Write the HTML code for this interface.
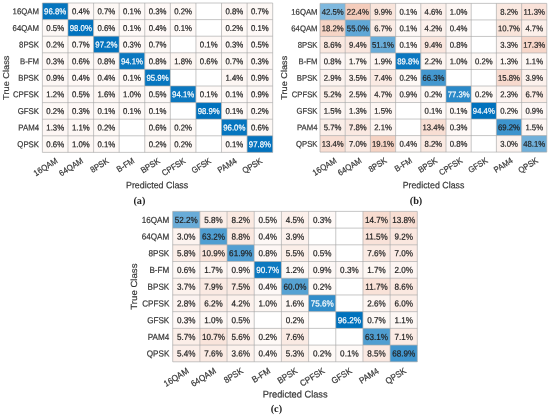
<!DOCTYPE html>
<html><head><meta charset="utf-8"><title>Confusion matrices</title>
<style>
html,body{margin:0;padding:0;background:#fff;}
svg{display:block;}
text{stroke-width:0.2px;}
svg{text-rendering:geometricPrecision;font-family:"Liberation Sans",Arial,sans-serif;font-size:8.45px;}
</style></head><body>
<svg width="550" height="417" viewBox="0 0 550 417">
<rect width="550" height="417" fill="#fff"/>
<rect x="42.40" y="3.00" width="25.59" height="16.60" fill="#0575be"/>
<rect x="67.99" y="3.00" width="25.59" height="16.60" fill="#fef8f6"/>
<rect x="93.58" y="3.00" width="25.59" height="16.60" fill="#fdf8f5"/>
<rect x="119.17" y="3.00" width="25.59" height="16.60" fill="#fef9f7"/>
<rect x="144.76" y="3.00" width="25.59" height="16.60" fill="#fef8f6"/>
<rect x="170.34" y="3.00" width="25.59" height="16.60" fill="#fef9f6"/>
<rect x="195.93" y="3.00" width="25.59" height="16.60" fill="#ffffff"/>
<rect x="221.52" y="3.00" width="25.59" height="16.60" fill="#fdf7f5"/>
<rect x="247.11" y="3.00" width="25.59" height="16.60" fill="#fdf8f5"/>
<rect x="42.40" y="19.60" width="25.59" height="16.60" fill="#fdf8f6"/>
<rect x="67.99" y="19.60" width="25.59" height="16.60" fill="#0273be"/>
<rect x="93.58" y="19.60" width="25.59" height="16.60" fill="#fdf8f5"/>
<rect x="119.17" y="19.60" width="25.59" height="16.60" fill="#fef9f7"/>
<rect x="144.76" y="19.60" width="25.59" height="16.60" fill="#fef8f6"/>
<rect x="170.34" y="19.60" width="25.59" height="16.60" fill="#fef9f7"/>
<rect x="195.93" y="19.60" width="25.59" height="16.60" fill="#ffffff"/>
<rect x="221.52" y="19.60" width="25.59" height="16.60" fill="#fef9f6"/>
<rect x="247.11" y="19.60" width="25.59" height="16.60" fill="#fef9f7"/>
<rect x="42.40" y="36.20" width="25.59" height="16.60" fill="#fef9f6"/>
<rect x="67.99" y="36.20" width="25.59" height="16.60" fill="#fdf8f5"/>
<rect x="93.58" y="36.20" width="25.59" height="16.60" fill="#0474be"/>
<rect x="119.17" y="36.20" width="25.59" height="16.60" fill="#fef8f6"/>
<rect x="144.76" y="36.20" width="25.59" height="16.60" fill="#fdf8f5"/>
<rect x="170.34" y="36.20" width="25.59" height="16.60" fill="#ffffff"/>
<rect x="195.93" y="36.20" width="25.59" height="16.60" fill="#fef9f7"/>
<rect x="221.52" y="36.20" width="25.59" height="16.60" fill="#fef8f6"/>
<rect x="247.11" y="36.20" width="25.59" height="16.60" fill="#fdf8f6"/>
<rect x="42.40" y="52.80" width="25.59" height="16.60" fill="#fef8f6"/>
<rect x="67.99" y="52.80" width="25.59" height="16.60" fill="#fdf8f5"/>
<rect x="93.58" y="52.80" width="25.59" height="16.60" fill="#fdf7f5"/>
<rect x="119.17" y="52.80" width="25.59" height="16.60" fill="#0b78c0"/>
<rect x="144.76" y="52.80" width="25.59" height="16.60" fill="#fdf7f5"/>
<rect x="170.34" y="52.80" width="25.59" height="16.60" fill="#fdf6f2"/>
<rect x="195.93" y="52.80" width="25.59" height="16.60" fill="#fdf8f5"/>
<rect x="221.52" y="52.80" width="25.59" height="16.60" fill="#fdf8f5"/>
<rect x="247.11" y="52.80" width="25.59" height="16.60" fill="#fef8f6"/>
<rect x="42.40" y="69.40" width="25.59" height="16.60" fill="#fdf7f5"/>
<rect x="67.99" y="69.40" width="25.59" height="16.60" fill="#fef8f6"/>
<rect x="93.58" y="69.40" width="25.59" height="16.60" fill="#fef8f6"/>
<rect x="119.17" y="69.40" width="25.59" height="16.60" fill="#fef9f7"/>
<rect x="144.76" y="69.40" width="25.59" height="16.60" fill="#0776bf"/>
<rect x="170.34" y="69.40" width="25.59" height="16.60" fill="#ffffff"/>
<rect x="195.93" y="69.40" width="25.59" height="16.60" fill="#ffffff"/>
<rect x="221.52" y="69.40" width="25.59" height="16.60" fill="#fdf6f3"/>
<rect x="247.11" y="69.40" width="25.59" height="16.60" fill="#fdf7f5"/>
<rect x="42.40" y="86.00" width="25.59" height="16.60" fill="#fdf7f4"/>
<rect x="67.99" y="86.00" width="25.59" height="16.60" fill="#fdf8f6"/>
<rect x="93.58" y="86.00" width="25.59" height="16.60" fill="#fdf6f3"/>
<rect x="119.17" y="86.00" width="25.59" height="16.60" fill="#fdf7f4"/>
<rect x="144.76" y="86.00" width="25.59" height="16.60" fill="#fdf8f6"/>
<rect x="170.34" y="86.00" width="25.59" height="16.60" fill="#0b78c0"/>
<rect x="195.93" y="86.00" width="25.59" height="16.60" fill="#fef9f7"/>
<rect x="221.52" y="86.00" width="25.59" height="16.60" fill="#fef9f7"/>
<rect x="247.11" y="86.00" width="25.59" height="16.60" fill="#fdf7f5"/>
<rect x="42.40" y="102.60" width="25.59" height="16.60" fill="#fef9f6"/>
<rect x="67.99" y="102.60" width="25.59" height="16.60" fill="#fef8f6"/>
<rect x="93.58" y="102.60" width="25.59" height="16.60" fill="#fef9f7"/>
<rect x="119.17" y="102.60" width="25.59" height="16.60" fill="#fef9f7"/>
<rect x="144.76" y="102.60" width="25.59" height="16.60" fill="#fef9f7"/>
<rect x="170.34" y="102.60" width="25.59" height="16.60" fill="#ffffff"/>
<rect x="195.93" y="102.60" width="25.59" height="16.60" fill="#0072bd"/>
<rect x="221.52" y="102.60" width="25.59" height="16.60" fill="#fef9f7"/>
<rect x="247.11" y="102.60" width="25.59" height="16.60" fill="#fef9f6"/>
<rect x="42.40" y="119.20" width="25.59" height="16.60" fill="#fdf6f4"/>
<rect x="67.99" y="119.20" width="25.59" height="16.60" fill="#fdf7f4"/>
<rect x="93.58" y="119.20" width="25.59" height="16.60" fill="#fef9f6"/>
<rect x="119.17" y="119.20" width="25.59" height="16.60" fill="#ffffff"/>
<rect x="144.76" y="119.20" width="25.59" height="16.60" fill="#fdf8f5"/>
<rect x="170.34" y="119.20" width="25.59" height="16.60" fill="#fef9f6"/>
<rect x="195.93" y="119.20" width="25.59" height="16.60" fill="#ffffff"/>
<rect x="221.52" y="119.20" width="25.59" height="16.60" fill="#0776bf"/>
<rect x="247.11" y="119.20" width="25.59" height="16.60" fill="#fdf8f5"/>
<rect x="42.40" y="135.80" width="25.59" height="16.60" fill="#fdf8f5"/>
<rect x="67.99" y="135.80" width="25.59" height="16.60" fill="#fdf7f4"/>
<rect x="93.58" y="135.80" width="25.59" height="16.60" fill="#fef9f7"/>
<rect x="119.17" y="135.80" width="25.59" height="16.60" fill="#ffffff"/>
<rect x="144.76" y="135.80" width="25.59" height="16.60" fill="#fef9f6"/>
<rect x="170.34" y="135.80" width="25.59" height="16.60" fill="#fef9f6"/>
<rect x="195.93" y="135.80" width="25.59" height="16.60" fill="#ffffff"/>
<rect x="221.52" y="135.80" width="25.59" height="16.60" fill="#fef9f7"/>
<rect x="247.11" y="135.80" width="25.59" height="16.60" fill="#0373be"/>
<path d="M42.40 3.00V152.40M42.40 3.00H272.70M67.99 3.00V152.40M42.40 19.60H272.70M93.58 3.00V152.40M42.40 36.20H272.70M119.17 3.00V152.40M42.40 52.80H272.70M144.76 3.00V152.40M42.40 69.40H272.70M170.34 3.00V152.40M42.40 86.00H272.70M195.93 3.00V152.40M42.40 102.60H272.70M221.52 3.00V152.40M42.40 119.20H272.70M247.11 3.00V152.40M42.40 135.80H272.70M272.70 3.00V152.40M42.40 152.40H272.70" stroke="#a8a8a8" stroke-width="0.65" fill="none"/>
<text transform="translate(55.19 14.34) rotate(0.04) scale(0.925 1)" text-anchor="middle" font-size="8.45" fill="#ffffff" stroke="#ffffff">96.8%</text>
<text transform="translate(80.78 14.34) rotate(0.04) scale(0.925 1)" text-anchor="middle" font-size="8.45" fill="#222" stroke="#222">0.4%</text>
<text transform="translate(106.37 14.34) rotate(0.04) scale(0.925 1)" text-anchor="middle" font-size="8.45" fill="#222" stroke="#222">0.7%</text>
<text transform="translate(131.96 14.34) rotate(0.04) scale(0.925 1)" text-anchor="middle" font-size="8.45" fill="#222" stroke="#222">0.1%</text>
<text transform="translate(157.55 14.34) rotate(0.04) scale(0.925 1)" text-anchor="middle" font-size="8.45" fill="#222" stroke="#222">0.3%</text>
<text transform="translate(183.14 14.34) rotate(0.04) scale(0.925 1)" text-anchor="middle" font-size="8.45" fill="#222" stroke="#222">0.2%</text>
<text transform="translate(234.32 14.34) rotate(0.04) scale(0.925 1)" text-anchor="middle" font-size="8.45" fill="#222" stroke="#222">0.8%</text>
<text transform="translate(259.91 14.34) rotate(0.04) scale(0.925 1)" text-anchor="middle" font-size="8.45" fill="#222" stroke="#222">0.7%</text>
<text transform="translate(55.19 30.94) rotate(0.04) scale(0.925 1)" text-anchor="middle" font-size="8.45" fill="#222" stroke="#222">0.5%</text>
<text transform="translate(80.78 30.94) rotate(0.04) scale(0.925 1)" text-anchor="middle" font-size="8.45" fill="#ffffff" stroke="#ffffff">98.0%</text>
<text transform="translate(106.37 30.94) rotate(0.04) scale(0.925 1)" text-anchor="middle" font-size="8.45" fill="#222" stroke="#222">0.6%</text>
<text transform="translate(131.96 30.94) rotate(0.04) scale(0.925 1)" text-anchor="middle" font-size="8.45" fill="#222" stroke="#222">0.1%</text>
<text transform="translate(157.55 30.94) rotate(0.04) scale(0.925 1)" text-anchor="middle" font-size="8.45" fill="#222" stroke="#222">0.4%</text>
<text transform="translate(183.14 30.94) rotate(0.04) scale(0.925 1)" text-anchor="middle" font-size="8.45" fill="#222" stroke="#222">0.1%</text>
<text transform="translate(234.32 30.94) rotate(0.04) scale(0.925 1)" text-anchor="middle" font-size="8.45" fill="#222" stroke="#222">0.2%</text>
<text transform="translate(259.91 30.94) rotate(0.04) scale(0.925 1)" text-anchor="middle" font-size="8.45" fill="#222" stroke="#222">0.1%</text>
<text transform="translate(55.19 47.54) rotate(0.04) scale(0.925 1)" text-anchor="middle" font-size="8.45" fill="#222" stroke="#222">0.2%</text>
<text transform="translate(80.78 47.54) rotate(0.04) scale(0.925 1)" text-anchor="middle" font-size="8.45" fill="#222" stroke="#222">0.7%</text>
<text transform="translate(106.37 47.54) rotate(0.04) scale(0.925 1)" text-anchor="middle" font-size="8.45" fill="#ffffff" stroke="#ffffff">97.2%</text>
<text transform="translate(131.96 47.54) rotate(0.04) scale(0.925 1)" text-anchor="middle" font-size="8.45" fill="#222" stroke="#222">0.3%</text>
<text transform="translate(157.55 47.54) rotate(0.04) scale(0.925 1)" text-anchor="middle" font-size="8.45" fill="#222" stroke="#222">0.7%</text>
<text transform="translate(208.73 47.54) rotate(0.04) scale(0.925 1)" text-anchor="middle" font-size="8.45" fill="#222" stroke="#222">0.1%</text>
<text transform="translate(234.32 47.54) rotate(0.04) scale(0.925 1)" text-anchor="middle" font-size="8.45" fill="#222" stroke="#222">0.3%</text>
<text transform="translate(259.91 47.54) rotate(0.04) scale(0.925 1)" text-anchor="middle" font-size="8.45" fill="#222" stroke="#222">0.5%</text>
<text transform="translate(55.19 64.14) rotate(0.04) scale(0.925 1)" text-anchor="middle" font-size="8.45" fill="#222" stroke="#222">0.3%</text>
<text transform="translate(80.78 64.14) rotate(0.04) scale(0.925 1)" text-anchor="middle" font-size="8.45" fill="#222" stroke="#222">0.6%</text>
<text transform="translate(106.37 64.14) rotate(0.04) scale(0.925 1)" text-anchor="middle" font-size="8.45" fill="#222" stroke="#222">0.8%</text>
<text transform="translate(131.96 64.14) rotate(0.04) scale(0.925 1)" text-anchor="middle" font-size="8.45" fill="#ffffff" stroke="#ffffff">94.1%</text>
<text transform="translate(157.55 64.14) rotate(0.04) scale(0.925 1)" text-anchor="middle" font-size="8.45" fill="#222" stroke="#222">0.8%</text>
<text transform="translate(183.14 64.14) rotate(0.04) scale(0.925 1)" text-anchor="middle" font-size="8.45" fill="#222" stroke="#222">1.8%</text>
<text transform="translate(208.73 64.14) rotate(0.04) scale(0.925 1)" text-anchor="middle" font-size="8.45" fill="#222" stroke="#222">0.6%</text>
<text transform="translate(234.32 64.14) rotate(0.04) scale(0.925 1)" text-anchor="middle" font-size="8.45" fill="#222" stroke="#222">0.7%</text>
<text transform="translate(259.91 64.14) rotate(0.04) scale(0.925 1)" text-anchor="middle" font-size="8.45" fill="#222" stroke="#222">0.3%</text>
<text transform="translate(55.19 80.74) rotate(0.04) scale(0.925 1)" text-anchor="middle" font-size="8.45" fill="#222" stroke="#222">0.9%</text>
<text transform="translate(80.78 80.74) rotate(0.04) scale(0.925 1)" text-anchor="middle" font-size="8.45" fill="#222" stroke="#222">0.4%</text>
<text transform="translate(106.37 80.74) rotate(0.04) scale(0.925 1)" text-anchor="middle" font-size="8.45" fill="#222" stroke="#222">0.4%</text>
<text transform="translate(131.96 80.74) rotate(0.04) scale(0.925 1)" text-anchor="middle" font-size="8.45" fill="#222" stroke="#222">0.1%</text>
<text transform="translate(157.55 80.74) rotate(0.04) scale(0.925 1)" text-anchor="middle" font-size="8.45" fill="#ffffff" stroke="#ffffff">95.9%</text>
<text transform="translate(234.32 80.74) rotate(0.04) scale(0.925 1)" text-anchor="middle" font-size="8.45" fill="#222" stroke="#222">1.4%</text>
<text transform="translate(259.91 80.74) rotate(0.04) scale(0.925 1)" text-anchor="middle" font-size="8.45" fill="#222" stroke="#222">0.9%</text>
<text transform="translate(55.19 97.34) rotate(0.04) scale(0.925 1)" text-anchor="middle" font-size="8.45" fill="#222" stroke="#222">1.2%</text>
<text transform="translate(80.78 97.34) rotate(0.04) scale(0.925 1)" text-anchor="middle" font-size="8.45" fill="#222" stroke="#222">0.5%</text>
<text transform="translate(106.37 97.34) rotate(0.04) scale(0.925 1)" text-anchor="middle" font-size="8.45" fill="#222" stroke="#222">1.6%</text>
<text transform="translate(131.96 97.34) rotate(0.04) scale(0.925 1)" text-anchor="middle" font-size="8.45" fill="#222" stroke="#222">1.0%</text>
<text transform="translate(157.55 97.34) rotate(0.04) scale(0.925 1)" text-anchor="middle" font-size="8.45" fill="#222" stroke="#222">0.5%</text>
<text transform="translate(183.14 97.34) rotate(0.04) scale(0.925 1)" text-anchor="middle" font-size="8.45" fill="#ffffff" stroke="#ffffff">94.1%</text>
<text transform="translate(208.73 97.34) rotate(0.04) scale(0.925 1)" text-anchor="middle" font-size="8.45" fill="#222" stroke="#222">0.1%</text>
<text transform="translate(234.32 97.34) rotate(0.04) scale(0.925 1)" text-anchor="middle" font-size="8.45" fill="#222" stroke="#222">0.1%</text>
<text transform="translate(259.91 97.34) rotate(0.04) scale(0.925 1)" text-anchor="middle" font-size="8.45" fill="#222" stroke="#222">0.9%</text>
<text transform="translate(55.19 113.94) rotate(0.04) scale(0.925 1)" text-anchor="middle" font-size="8.45" fill="#222" stroke="#222">0.2%</text>
<text transform="translate(80.78 113.94) rotate(0.04) scale(0.925 1)" text-anchor="middle" font-size="8.45" fill="#222" stroke="#222">0.3%</text>
<text transform="translate(106.37 113.94) rotate(0.04) scale(0.925 1)" text-anchor="middle" font-size="8.45" fill="#222" stroke="#222">0.1%</text>
<text transform="translate(131.96 113.94) rotate(0.04) scale(0.925 1)" text-anchor="middle" font-size="8.45" fill="#222" stroke="#222">0.1%</text>
<text transform="translate(157.55 113.94) rotate(0.04) scale(0.925 1)" text-anchor="middle" font-size="8.45" fill="#222" stroke="#222">0.1%</text>
<text transform="translate(208.73 113.94) rotate(0.04) scale(0.925 1)" text-anchor="middle" font-size="8.45" fill="#ffffff" stroke="#ffffff">98.9%</text>
<text transform="translate(234.32 113.94) rotate(0.04) scale(0.925 1)" text-anchor="middle" font-size="8.45" fill="#222" stroke="#222">0.1%</text>
<text transform="translate(259.91 113.94) rotate(0.04) scale(0.925 1)" text-anchor="middle" font-size="8.45" fill="#222" stroke="#222">0.2%</text>
<text transform="translate(55.19 130.54) rotate(0.04) scale(0.925 1)" text-anchor="middle" font-size="8.45" fill="#222" stroke="#222">1.3%</text>
<text transform="translate(80.78 130.54) rotate(0.04) scale(0.925 1)" text-anchor="middle" font-size="8.45" fill="#222" stroke="#222">1.1%</text>
<text transform="translate(106.37 130.54) rotate(0.04) scale(0.925 1)" text-anchor="middle" font-size="8.45" fill="#222" stroke="#222">0.2%</text>
<text transform="translate(157.55 130.54) rotate(0.04) scale(0.925 1)" text-anchor="middle" font-size="8.45" fill="#222" stroke="#222">0.6%</text>
<text transform="translate(183.14 130.54) rotate(0.04) scale(0.925 1)" text-anchor="middle" font-size="8.45" fill="#222" stroke="#222">0.2%</text>
<text transform="translate(234.32 130.54) rotate(0.04) scale(0.925 1)" text-anchor="middle" font-size="8.45" fill="#ffffff" stroke="#ffffff">96.0%</text>
<text transform="translate(259.91 130.54) rotate(0.04) scale(0.925 1)" text-anchor="middle" font-size="8.45" fill="#222" stroke="#222">0.6%</text>
<text transform="translate(55.19 147.14) rotate(0.04) scale(0.925 1)" text-anchor="middle" font-size="8.45" fill="#222" stroke="#222">0.6%</text>
<text transform="translate(80.78 147.14) rotate(0.04) scale(0.925 1)" text-anchor="middle" font-size="8.45" fill="#222" stroke="#222">1.0%</text>
<text transform="translate(106.37 147.14) rotate(0.04) scale(0.925 1)" text-anchor="middle" font-size="8.45" fill="#222" stroke="#222">0.1%</text>
<text transform="translate(157.55 147.14) rotate(0.04) scale(0.925 1)" text-anchor="middle" font-size="8.45" fill="#222" stroke="#222">0.2%</text>
<text transform="translate(183.14 147.14) rotate(0.04) scale(0.925 1)" text-anchor="middle" font-size="8.45" fill="#222" stroke="#222">0.2%</text>
<text transform="translate(234.32 147.14) rotate(0.04) scale(0.925 1)" text-anchor="middle" font-size="8.45" fill="#222" stroke="#222">0.1%</text>
<text transform="translate(259.91 147.14) rotate(0.04) scale(0.925 1)" text-anchor="middle" font-size="8.45" fill="#ffffff" stroke="#ffffff">97.8%</text>
<text transform="translate(39.00 14.34) rotate(0.04) scale(0.925 1)" font-size="8.45" text-anchor="end" fill="#363636" stroke="#363636">16QAM</text>
<text transform="translate(39.00 30.94) rotate(0.04) scale(0.925 1)" font-size="8.45" text-anchor="end" fill="#363636" stroke="#363636">64QAM</text>
<text transform="translate(39.00 47.54) rotate(0.04) scale(0.925 1)" font-size="8.45" text-anchor="end" fill="#363636" stroke="#363636">8PSK</text>
<text transform="translate(39.00 64.14) rotate(0.04) scale(0.925 1)" font-size="8.45" text-anchor="end" fill="#363636" stroke="#363636">B-FM</text>
<text transform="translate(39.00 80.74) rotate(0.04) scale(0.925 1)" font-size="8.45" text-anchor="end" fill="#363636" stroke="#363636">BPSK</text>
<text transform="translate(39.00 97.34) rotate(0.04) scale(0.925 1)" font-size="8.45" text-anchor="end" fill="#363636" stroke="#363636">CPFSK</text>
<text transform="translate(39.00 113.94) rotate(0.04) scale(0.925 1)" font-size="8.45" text-anchor="end" fill="#363636" stroke="#363636">GFSK</text>
<text transform="translate(39.00 130.54) rotate(0.04) scale(0.925 1)" font-size="8.45" text-anchor="end" fill="#363636" stroke="#363636">PAM4</text>
<text transform="translate(39.00 147.14) rotate(0.04) scale(0.925 1)" font-size="8.45" text-anchor="end" fill="#363636" stroke="#363636">QPSK</text>
<text transform="translate(54.99 157.20) rotate(-32) scale(0.925 1)" x="0" y="6.08" font-size="8.45" text-anchor="end" fill="#363636" stroke="#363636">16QAM</text>
<text transform="translate(80.58 157.20) rotate(-32) scale(0.925 1)" x="0" y="6.08" font-size="8.45" text-anchor="end" fill="#363636" stroke="#363636">64QAM</text>
<text transform="translate(106.17 157.20) rotate(-32) scale(0.925 1)" x="0" y="6.08" font-size="8.45" text-anchor="end" fill="#363636" stroke="#363636">8PSK</text>
<text transform="translate(131.76 157.20) rotate(-32) scale(0.925 1)" x="0" y="6.08" font-size="8.45" text-anchor="end" fill="#363636" stroke="#363636">B-FM</text>
<text transform="translate(157.35 157.20) rotate(-32) scale(0.925 1)" x="0" y="6.08" font-size="8.45" text-anchor="end" fill="#363636" stroke="#363636">BPSK</text>
<text transform="translate(182.94 157.20) rotate(-32) scale(0.925 1)" x="0" y="6.08" font-size="8.45" text-anchor="end" fill="#363636" stroke="#363636">CPFSK</text>
<text transform="translate(208.53 157.20) rotate(-32) scale(0.925 1)" x="0" y="6.08" font-size="8.45" text-anchor="end" fill="#363636" stroke="#363636">GFSK</text>
<text transform="translate(234.12 157.20) rotate(-32) scale(0.925 1)" x="0" y="6.08" font-size="8.45" text-anchor="end" fill="#363636" stroke="#363636">PAM4</text>
<text transform="translate(259.71 157.20) rotate(-32) scale(0.925 1)" x="0" y="6.08" font-size="8.45" text-anchor="end" fill="#363636" stroke="#363636">QPSK</text>
<text transform="translate(157.10 188.20) rotate(0.04) scale(0.962 1)" text-anchor="middle" font-size="9.25" fill="#363636" stroke="#363636">Predicted Class</text>
<text transform="translate(8.80 77.70) scale(0.925 1) rotate(-90)" text-anchor="middle" font-size="9.25" fill="#363636" stroke="#363636">True Class</text>
<text x="139.40" y="204.30" text-anchor="middle" font-family="'Liberation Serif',serif" font-weight="bold" font-size="10.3" fill="#222">(a)</text>
<rect x="320.00" y="3.40" width="25.20" height="16.52" fill="#7eb8de"/>
<rect x="345.20" y="3.40" width="25.20" height="16.52" fill="#f4ccbb"/>
<rect x="370.40" y="3.40" width="25.20" height="16.52" fill="#f9e5dc"/>
<rect x="395.60" y="3.40" width="25.20" height="16.52" fill="#fef9f7"/>
<rect x="420.80" y="3.40" width="25.20" height="16.52" fill="#fcf0eb"/>
<rect x="446.00" y="3.40" width="25.20" height="16.52" fill="#fdf7f4"/>
<rect x="471.20" y="3.40" width="25.20" height="16.52" fill="#ffffff"/>
<rect x="496.40" y="3.40" width="25.20" height="16.52" fill="#fae9e1"/>
<rect x="521.60" y="3.40" width="25.20" height="16.52" fill="#f9e2d9"/>
<rect x="320.00" y="19.92" width="25.20" height="16.52" fill="#f6d5c6"/>
<rect x="345.20" y="19.92" width="25.20" height="16.52" fill="#60a7d6"/>
<rect x="370.40" y="19.92" width="25.20" height="16.52" fill="#fbece5"/>
<rect x="395.60" y="19.92" width="25.20" height="16.52" fill="#fef9f7"/>
<rect x="420.80" y="19.92" width="25.20" height="16.52" fill="#fcf1ec"/>
<rect x="446.00" y="19.92" width="25.20" height="16.52" fill="#fdf8f6"/>
<rect x="471.20" y="19.92" width="25.20" height="16.52" fill="#ffffff"/>
<rect x="496.40" y="19.92" width="25.20" height="16.52" fill="#f9e4da"/>
<rect x="521.60" y="19.92" width="25.20" height="16.52" fill="#fcf0ea"/>
<rect x="320.00" y="36.44" width="25.20" height="16.52" fill="#fae8e0"/>
<rect x="345.20" y="36.44" width="25.20" height="16.52" fill="#fae6de"/>
<rect x="370.40" y="36.44" width="25.20" height="16.52" fill="#69acd8"/>
<rect x="395.60" y="36.44" width="25.20" height="16.52" fill="#fef9f7"/>
<rect x="420.80" y="36.44" width="25.20" height="16.52" fill="#fae6de"/>
<rect x="446.00" y="36.44" width="25.20" height="16.52" fill="#fdf7f5"/>
<rect x="471.20" y="36.44" width="25.20" height="16.52" fill="#ffffff"/>
<rect x="496.40" y="36.44" width="25.20" height="16.52" fill="#fcf2ee"/>
<rect x="521.60" y="36.44" width="25.20" height="16.52" fill="#f6d6c9"/>
<rect x="320.00" y="52.97" width="25.20" height="16.52" fill="#fdf7f5"/>
<rect x="345.20" y="52.97" width="25.20" height="16.52" fill="#fdf6f2"/>
<rect x="370.40" y="52.97" width="25.20" height="16.52" fill="#fdf5f2"/>
<rect x="395.60" y="52.97" width="25.20" height="16.52" fill="#0b78c0"/>
<rect x="420.80" y="52.97" width="25.20" height="16.52" fill="#fdf5f1"/>
<rect x="446.00" y="52.97" width="25.20" height="16.52" fill="#fdf7f4"/>
<rect x="471.20" y="52.97" width="25.20" height="16.52" fill="#fef9f6"/>
<rect x="496.40" y="52.97" width="25.20" height="16.52" fill="#fdf6f3"/>
<rect x="521.60" y="52.97" width="25.20" height="16.52" fill="#fdf7f4"/>
<rect x="320.00" y="69.49" width="25.20" height="16.52" fill="#fcf3ef"/>
<rect x="345.20" y="69.49" width="25.20" height="16.52" fill="#fcf2ee"/>
<rect x="370.40" y="69.49" width="25.20" height="16.52" fill="#faeae3"/>
<rect x="395.60" y="69.49" width="25.20" height="16.52" fill="#fef9f6"/>
<rect x="420.80" y="69.49" width="25.20" height="16.52" fill="#4498cf"/>
<rect x="446.00" y="69.49" width="25.20" height="16.52" fill="#ffffff"/>
<rect x="471.20" y="69.49" width="25.20" height="16.52" fill="#ffffff"/>
<rect x="496.40" y="69.49" width="25.20" height="16.52" fill="#f7d9cd"/>
<rect x="521.60" y="69.49" width="25.20" height="16.52" fill="#fcf1ec"/>
<rect x="320.00" y="86.01" width="25.20" height="16.52" fill="#fbefe9"/>
<rect x="345.20" y="86.01" width="25.20" height="16.52" fill="#fdf4f0"/>
<rect x="370.40" y="86.01" width="25.20" height="16.52" fill="#fcf0ea"/>
<rect x="395.60" y="86.01" width="25.20" height="16.52" fill="#fdf7f5"/>
<rect x="420.80" y="86.01" width="25.20" height="16.52" fill="#fef9f6"/>
<rect x="446.00" y="86.01" width="25.20" height="16.52" fill="#2a89c8"/>
<rect x="471.20" y="86.01" width="25.20" height="16.52" fill="#fef9f6"/>
<rect x="496.40" y="86.01" width="25.20" height="16.52" fill="#fdf4f1"/>
<rect x="521.60" y="86.01" width="25.20" height="16.52" fill="#fbece5"/>
<rect x="320.00" y="102.53" width="25.20" height="16.52" fill="#fdf6f3"/>
<rect x="345.20" y="102.53" width="25.20" height="16.52" fill="#fdf6f3"/>
<rect x="370.40" y="102.53" width="25.20" height="16.52" fill="#fdf6f3"/>
<rect x="395.60" y="102.53" width="25.20" height="16.52" fill="#ffffff"/>
<rect x="420.80" y="102.53" width="25.20" height="16.52" fill="#fef9f7"/>
<rect x="446.00" y="102.53" width="25.20" height="16.52" fill="#fef9f7"/>
<rect x="471.20" y="102.53" width="25.20" height="16.52" fill="#0072bd"/>
<rect x="496.40" y="102.53" width="25.20" height="16.52" fill="#fef9f6"/>
<rect x="521.60" y="102.53" width="25.20" height="16.52" fill="#fdf7f5"/>
<rect x="320.00" y="119.06" width="25.20" height="16.52" fill="#fbeee8"/>
<rect x="345.20" y="119.06" width="25.20" height="16.52" fill="#fae9e2"/>
<rect x="370.40" y="119.06" width="25.20" height="16.52" fill="#fdf5f1"/>
<rect x="395.60" y="119.06" width="25.20" height="16.52" fill="#ffffff"/>
<rect x="420.80" y="119.06" width="25.20" height="16.52" fill="#f8ded3"/>
<rect x="446.00" y="119.06" width="25.20" height="16.52" fill="#fef8f6"/>
<rect x="471.20" y="119.06" width="25.20" height="16.52" fill="#ffffff"/>
<rect x="496.40" y="119.06" width="25.20" height="16.52" fill="#3d94cd"/>
<rect x="521.60" y="119.06" width="25.20" height="16.52" fill="#fdf6f3"/>
<rect x="320.00" y="135.58" width="25.20" height="16.52" fill="#f8ded3"/>
<rect x="345.20" y="135.58" width="25.20" height="16.52" fill="#fbebe4"/>
<rect x="370.40" y="135.58" width="25.20" height="16.52" fill="#f5d3c4"/>
<rect x="395.60" y="135.58" width="25.20" height="16.52" fill="#fdf8f6"/>
<rect x="420.80" y="135.58" width="25.20" height="16.52" fill="#fae9e1"/>
<rect x="446.00" y="135.58" width="25.20" height="16.52" fill="#fdf7f5"/>
<rect x="471.20" y="135.58" width="25.20" height="16.52" fill="#ffffff"/>
<rect x="496.40" y="135.58" width="25.20" height="16.52" fill="#fcf3ef"/>
<rect x="521.60" y="135.58" width="25.20" height="16.52" fill="#71b0da"/>
<path d="M320.00 3.40V152.10M320.00 3.40H546.80M345.20 3.40V152.10M320.00 19.92H546.80M370.40 3.40V152.10M320.00 36.44H546.80M395.60 3.40V152.10M320.00 52.97H546.80M420.80 3.40V152.10M320.00 69.49H546.80M446.00 3.40V152.10M320.00 86.01H546.80M471.20 3.40V152.10M320.00 102.53H546.80M496.40 3.40V152.10M320.00 119.06H546.80M521.60 3.40V152.10M320.00 135.58H546.80M546.80 3.40V152.10M320.00 152.10H546.80" stroke="#a8a8a8" stroke-width="0.65" fill="none"/>
<text transform="translate(332.60 14.67) rotate(0.04) scale(0.925 1)" text-anchor="middle" font-size="8.37" fill="#222" stroke="#222">42.5%</text>
<text transform="translate(357.80 14.67) rotate(0.04) scale(0.925 1)" text-anchor="middle" font-size="8.37" fill="#222" stroke="#222">22.4%</text>
<text transform="translate(383.00 14.67) rotate(0.04) scale(0.925 1)" text-anchor="middle" font-size="8.37" fill="#222" stroke="#222">9.9%</text>
<text transform="translate(408.20 14.67) rotate(0.04) scale(0.925 1)" text-anchor="middle" font-size="8.37" fill="#222" stroke="#222">0.1%</text>
<text transform="translate(433.40 14.67) rotate(0.04) scale(0.925 1)" text-anchor="middle" font-size="8.37" fill="#222" stroke="#222">4.6%</text>
<text transform="translate(458.60 14.67) rotate(0.04) scale(0.925 1)" text-anchor="middle" font-size="8.37" fill="#222" stroke="#222">1.0%</text>
<text transform="translate(509.00 14.67) rotate(0.04) scale(0.925 1)" text-anchor="middle" font-size="8.37" fill="#222" stroke="#222">8.2%</text>
<text transform="translate(534.20 14.67) rotate(0.04) scale(0.925 1)" text-anchor="middle" font-size="8.37" fill="#222" stroke="#222">11.3%</text>
<text transform="translate(332.60 31.19) rotate(0.04) scale(0.925 1)" text-anchor="middle" font-size="8.37" fill="#222" stroke="#222">18.2%</text>
<text transform="translate(357.80 31.19) rotate(0.04) scale(0.925 1)" text-anchor="middle" font-size="8.37" fill="#222" stroke="#222">55.0%</text>
<text transform="translate(383.00 31.19) rotate(0.04) scale(0.925 1)" text-anchor="middle" font-size="8.37" fill="#222" stroke="#222">6.7%</text>
<text transform="translate(408.20 31.19) rotate(0.04) scale(0.925 1)" text-anchor="middle" font-size="8.37" fill="#222" stroke="#222">0.1%</text>
<text transform="translate(433.40 31.19) rotate(0.04) scale(0.925 1)" text-anchor="middle" font-size="8.37" fill="#222" stroke="#222">4.2%</text>
<text transform="translate(458.60 31.19) rotate(0.04) scale(0.925 1)" text-anchor="middle" font-size="8.37" fill="#222" stroke="#222">0.4%</text>
<text transform="translate(509.00 31.19) rotate(0.04) scale(0.925 1)" text-anchor="middle" font-size="8.37" fill="#222" stroke="#222">10.7%</text>
<text transform="translate(534.20 31.19) rotate(0.04) scale(0.925 1)" text-anchor="middle" font-size="8.37" fill="#222" stroke="#222">4.7%</text>
<text transform="translate(332.60 47.72) rotate(0.04) scale(0.925 1)" text-anchor="middle" font-size="8.37" fill="#222" stroke="#222">8.6%</text>
<text transform="translate(357.80 47.72) rotate(0.04) scale(0.925 1)" text-anchor="middle" font-size="8.37" fill="#222" stroke="#222">9.4%</text>
<text transform="translate(383.00 47.72) rotate(0.04) scale(0.925 1)" text-anchor="middle" font-size="8.37" fill="#222" stroke="#222">51.1%</text>
<text transform="translate(408.20 47.72) rotate(0.04) scale(0.925 1)" text-anchor="middle" font-size="8.37" fill="#222" stroke="#222">0.1%</text>
<text transform="translate(433.40 47.72) rotate(0.04) scale(0.925 1)" text-anchor="middle" font-size="8.37" fill="#222" stroke="#222">9.4%</text>
<text transform="translate(458.60 47.72) rotate(0.04) scale(0.925 1)" text-anchor="middle" font-size="8.37" fill="#222" stroke="#222">0.8%</text>
<text transform="translate(509.00 47.72) rotate(0.04) scale(0.925 1)" text-anchor="middle" font-size="8.37" fill="#222" stroke="#222">3.3%</text>
<text transform="translate(534.20 47.72) rotate(0.04) scale(0.925 1)" text-anchor="middle" font-size="8.37" fill="#222" stroke="#222">17.3%</text>
<text transform="translate(332.60 64.24) rotate(0.04) scale(0.925 1)" text-anchor="middle" font-size="8.37" fill="#222" stroke="#222">0.8%</text>
<text transform="translate(357.80 64.24) rotate(0.04) scale(0.925 1)" text-anchor="middle" font-size="8.37" fill="#222" stroke="#222">1.7%</text>
<text transform="translate(383.00 64.24) rotate(0.04) scale(0.925 1)" text-anchor="middle" font-size="8.37" fill="#222" stroke="#222">1.9%</text>
<text transform="translate(408.20 64.24) rotate(0.04) scale(0.925 1)" text-anchor="middle" font-size="8.37" fill="#ffffff" stroke="#ffffff">89.8%</text>
<text transform="translate(433.40 64.24) rotate(0.04) scale(0.925 1)" text-anchor="middle" font-size="8.37" fill="#222" stroke="#222">2.2%</text>
<text transform="translate(458.60 64.24) rotate(0.04) scale(0.925 1)" text-anchor="middle" font-size="8.37" fill="#222" stroke="#222">1.0%</text>
<text transform="translate(483.80 64.24) rotate(0.04) scale(0.925 1)" text-anchor="middle" font-size="8.37" fill="#222" stroke="#222">0.2%</text>
<text transform="translate(509.00 64.24) rotate(0.04) scale(0.925 1)" text-anchor="middle" font-size="8.37" fill="#222" stroke="#222">1.3%</text>
<text transform="translate(534.20 64.24) rotate(0.04) scale(0.925 1)" text-anchor="middle" font-size="8.37" fill="#222" stroke="#222">1.1%</text>
<text transform="translate(332.60 80.76) rotate(0.04) scale(0.925 1)" text-anchor="middle" font-size="8.37" fill="#222" stroke="#222">2.9%</text>
<text transform="translate(357.80 80.76) rotate(0.04) scale(0.925 1)" text-anchor="middle" font-size="8.37" fill="#222" stroke="#222">3.5%</text>
<text transform="translate(383.00 80.76) rotate(0.04) scale(0.925 1)" text-anchor="middle" font-size="8.37" fill="#222" stroke="#222">7.4%</text>
<text transform="translate(408.20 80.76) rotate(0.04) scale(0.925 1)" text-anchor="middle" font-size="8.37" fill="#222" stroke="#222">0.2%</text>
<text transform="translate(433.40 80.76) rotate(0.04) scale(0.925 1)" text-anchor="middle" font-size="8.37" fill="#222" stroke="#222">66.3%</text>
<text transform="translate(509.00 80.76) rotate(0.04) scale(0.925 1)" text-anchor="middle" font-size="8.37" fill="#222" stroke="#222">15.8%</text>
<text transform="translate(534.20 80.76) rotate(0.04) scale(0.925 1)" text-anchor="middle" font-size="8.37" fill="#222" stroke="#222">3.9%</text>
<text transform="translate(332.60 97.28) rotate(0.04) scale(0.925 1)" text-anchor="middle" font-size="8.37" fill="#222" stroke="#222">5.2%</text>
<text transform="translate(357.80 97.28) rotate(0.04) scale(0.925 1)" text-anchor="middle" font-size="8.37" fill="#222" stroke="#222">2.5%</text>
<text transform="translate(383.00 97.28) rotate(0.04) scale(0.925 1)" text-anchor="middle" font-size="8.37" fill="#222" stroke="#222">4.7%</text>
<text transform="translate(408.20 97.28) rotate(0.04) scale(0.925 1)" text-anchor="middle" font-size="8.37" fill="#222" stroke="#222">0.9%</text>
<text transform="translate(433.40 97.28) rotate(0.04) scale(0.925 1)" text-anchor="middle" font-size="8.37" fill="#222" stroke="#222">0.2%</text>
<text transform="translate(458.60 97.28) rotate(0.04) scale(0.925 1)" text-anchor="middle" font-size="8.37" fill="#ffffff" stroke="#ffffff">77.3%</text>
<text transform="translate(483.80 97.28) rotate(0.04) scale(0.925 1)" text-anchor="middle" font-size="8.37" fill="#222" stroke="#222">0.2%</text>
<text transform="translate(509.00 97.28) rotate(0.04) scale(0.925 1)" text-anchor="middle" font-size="8.37" fill="#222" stroke="#222">2.3%</text>
<text transform="translate(534.20 97.28) rotate(0.04) scale(0.925 1)" text-anchor="middle" font-size="8.37" fill="#222" stroke="#222">6.7%</text>
<text transform="translate(332.60 113.81) rotate(0.04) scale(0.925 1)" text-anchor="middle" font-size="8.37" fill="#222" stroke="#222">1.5%</text>
<text transform="translate(357.80 113.81) rotate(0.04) scale(0.925 1)" text-anchor="middle" font-size="8.37" fill="#222" stroke="#222">1.3%</text>
<text transform="translate(383.00 113.81) rotate(0.04) scale(0.925 1)" text-anchor="middle" font-size="8.37" fill="#222" stroke="#222">1.5%</text>
<text transform="translate(433.40 113.81) rotate(0.04) scale(0.925 1)" text-anchor="middle" font-size="8.37" fill="#222" stroke="#222">0.1%</text>
<text transform="translate(458.60 113.81) rotate(0.04) scale(0.925 1)" text-anchor="middle" font-size="8.37" fill="#222" stroke="#222">0.1%</text>
<text transform="translate(483.80 113.81) rotate(0.04) scale(0.925 1)" text-anchor="middle" font-size="8.37" fill="#ffffff" stroke="#ffffff">94.4%</text>
<text transform="translate(509.00 113.81) rotate(0.04) scale(0.925 1)" text-anchor="middle" font-size="8.37" fill="#222" stroke="#222">0.2%</text>
<text transform="translate(534.20 113.81) rotate(0.04) scale(0.925 1)" text-anchor="middle" font-size="8.37" fill="#222" stroke="#222">0.9%</text>
<text transform="translate(332.60 130.33) rotate(0.04) scale(0.925 1)" text-anchor="middle" font-size="8.37" fill="#222" stroke="#222">5.7%</text>
<text transform="translate(357.80 130.33) rotate(0.04) scale(0.925 1)" text-anchor="middle" font-size="8.37" fill="#222" stroke="#222">7.8%</text>
<text transform="translate(383.00 130.33) rotate(0.04) scale(0.925 1)" text-anchor="middle" font-size="8.37" fill="#222" stroke="#222">2.1%</text>
<text transform="translate(433.40 130.33) rotate(0.04) scale(0.925 1)" text-anchor="middle" font-size="8.37" fill="#222" stroke="#222">13.4%</text>
<text transform="translate(458.60 130.33) rotate(0.04) scale(0.925 1)" text-anchor="middle" font-size="8.37" fill="#222" stroke="#222">0.3%</text>
<text transform="translate(509.00 130.33) rotate(0.04) scale(0.925 1)" text-anchor="middle" font-size="8.37" fill="#222" stroke="#222">69.2%</text>
<text transform="translate(534.20 130.33) rotate(0.04) scale(0.925 1)" text-anchor="middle" font-size="8.37" fill="#222" stroke="#222">1.5%</text>
<text transform="translate(332.60 146.85) rotate(0.04) scale(0.925 1)" text-anchor="middle" font-size="8.37" fill="#222" stroke="#222">13.4%</text>
<text transform="translate(357.80 146.85) rotate(0.04) scale(0.925 1)" text-anchor="middle" font-size="8.37" fill="#222" stroke="#222">7.0%</text>
<text transform="translate(383.00 146.85) rotate(0.04) scale(0.925 1)" text-anchor="middle" font-size="8.37" fill="#222" stroke="#222">19.1%</text>
<text transform="translate(408.20 146.85) rotate(0.04) scale(0.925 1)" text-anchor="middle" font-size="8.37" fill="#222" stroke="#222">0.4%</text>
<text transform="translate(433.40 146.85) rotate(0.04) scale(0.925 1)" text-anchor="middle" font-size="8.37" fill="#222" stroke="#222">8.2%</text>
<text transform="translate(458.60 146.85) rotate(0.04) scale(0.925 1)" text-anchor="middle" font-size="8.37" fill="#222" stroke="#222">0.8%</text>
<text transform="translate(509.00 146.85) rotate(0.04) scale(0.925 1)" text-anchor="middle" font-size="8.37" fill="#222" stroke="#222">3.0%</text>
<text transform="translate(534.20 146.85) rotate(0.04) scale(0.925 1)" text-anchor="middle" font-size="8.37" fill="#222" stroke="#222">48.1%</text>
<text transform="translate(317.50 14.67) rotate(0.04) scale(0.925 1)" font-size="8.37" text-anchor="end" fill="#363636" stroke="#363636">16QAM</text>
<text transform="translate(317.50 31.19) rotate(0.04) scale(0.925 1)" font-size="8.37" text-anchor="end" fill="#363636" stroke="#363636">64QAM</text>
<text transform="translate(317.50 47.72) rotate(0.04) scale(0.925 1)" font-size="8.37" text-anchor="end" fill="#363636" stroke="#363636">8PSK</text>
<text transform="translate(317.50 64.24) rotate(0.04) scale(0.925 1)" font-size="8.37" text-anchor="end" fill="#363636" stroke="#363636">B-FM</text>
<text transform="translate(317.50 80.76) rotate(0.04) scale(0.925 1)" font-size="8.37" text-anchor="end" fill="#363636" stroke="#363636">BPSK</text>
<text transform="translate(317.50 97.28) rotate(0.04) scale(0.925 1)" font-size="8.37" text-anchor="end" fill="#363636" stroke="#363636">CPFSK</text>
<text transform="translate(317.50 113.81) rotate(0.04) scale(0.925 1)" font-size="8.37" text-anchor="end" fill="#363636" stroke="#363636">GFSK</text>
<text transform="translate(317.50 130.33) rotate(0.04) scale(0.925 1)" font-size="8.37" text-anchor="end" fill="#363636" stroke="#363636">PAM4</text>
<text transform="translate(317.50 146.85) rotate(0.04) scale(0.925 1)" font-size="8.37" text-anchor="end" fill="#363636" stroke="#363636">QPSK</text>
<text transform="translate(333.90 156.90) rotate(-32) scale(0.925 1)" x="0" y="6.02" font-size="8.37" text-anchor="end" fill="#363636" stroke="#363636">16QAM</text>
<text transform="translate(359.10 156.90) rotate(-32) scale(0.925 1)" x="0" y="6.02" font-size="8.37" text-anchor="end" fill="#363636" stroke="#363636">64QAM</text>
<text transform="translate(384.30 156.90) rotate(-32) scale(0.925 1)" x="0" y="6.02" font-size="8.37" text-anchor="end" fill="#363636" stroke="#363636">8PSK</text>
<text transform="translate(409.50 156.90) rotate(-32) scale(0.925 1)" x="0" y="6.02" font-size="8.37" text-anchor="end" fill="#363636" stroke="#363636">B-FM</text>
<text transform="translate(434.70 156.90) rotate(-32) scale(0.925 1)" x="0" y="6.02" font-size="8.37" text-anchor="end" fill="#363636" stroke="#363636">BPSK</text>
<text transform="translate(459.90 156.90) rotate(-32) scale(0.925 1)" x="0" y="6.02" font-size="8.37" text-anchor="end" fill="#363636" stroke="#363636">CPFSK</text>
<text transform="translate(485.10 156.90) rotate(-32) scale(0.925 1)" x="0" y="6.02" font-size="8.37" text-anchor="end" fill="#363636" stroke="#363636">GFSK</text>
<text transform="translate(510.30 156.90) rotate(-32) scale(0.925 1)" x="0" y="6.02" font-size="8.37" text-anchor="end" fill="#363636" stroke="#363636">PAM4</text>
<text transform="translate(535.50 156.90) rotate(-32) scale(0.925 1)" x="0" y="6.02" font-size="8.37" text-anchor="end" fill="#363636" stroke="#363636">QPSK</text>
<text transform="translate(433.50 188.20) rotate(0.04) scale(0.962 1)" text-anchor="middle" font-size="9.16" fill="#363636" stroke="#363636">Predicted Class</text>
<text transform="translate(287.00 77.75) scale(0.925 1) rotate(-90)" text-anchor="middle" font-size="9.16" fill="#363636" stroke="#363636">True Class</text>
<text x="416.00" y="204.30" text-anchor="middle" font-family="'Liberation Serif',serif" font-weight="bold" font-size="10.3" fill="#222">(b)</text>
<rect x="172.70" y="211.40" width="27.18" height="16.71" fill="#69acd8"/>
<rect x="199.88" y="211.40" width="27.18" height="16.71" fill="#fbeee8"/>
<rect x="227.06" y="211.40" width="27.18" height="16.71" fill="#fae9e1"/>
<rect x="254.23" y="211.40" width="27.18" height="16.71" fill="#fdf8f6"/>
<rect x="281.41" y="211.40" width="27.18" height="16.71" fill="#fcf0eb"/>
<rect x="308.59" y="211.40" width="27.18" height="16.71" fill="#fef8f6"/>
<rect x="335.77" y="211.40" width="27.18" height="16.71" fill="#ffffff"/>
<rect x="362.94" y="211.40" width="27.18" height="16.71" fill="#f7dcd0"/>
<rect x="390.12" y="211.40" width="27.18" height="16.71" fill="#f8ded3"/>
<rect x="172.70" y="228.11" width="27.18" height="16.71" fill="#fcf3ef"/>
<rect x="199.88" y="228.11" width="27.18" height="16.71" fill="#4f9ed1"/>
<rect x="227.06" y="228.11" width="27.18" height="16.71" fill="#fae8e0"/>
<rect x="254.23" y="228.11" width="27.18" height="16.71" fill="#fdf8f6"/>
<rect x="281.41" y="228.11" width="27.18" height="16.71" fill="#fcf1ed"/>
<rect x="308.59" y="228.11" width="27.18" height="16.71" fill="#ffffff"/>
<rect x="335.77" y="228.11" width="27.18" height="16.71" fill="#ffffff"/>
<rect x="362.94" y="228.11" width="27.18" height="16.71" fill="#f9e2d9"/>
<rect x="390.12" y="228.11" width="27.18" height="16.71" fill="#fae7df"/>
<rect x="172.70" y="244.82" width="27.18" height="16.71" fill="#fbeee8"/>
<rect x="199.88" y="244.82" width="27.18" height="16.71" fill="#f9e4da"/>
<rect x="227.06" y="244.82" width="27.18" height="16.71" fill="#529fd2"/>
<rect x="254.23" y="244.82" width="27.18" height="16.71" fill="#fdf7f5"/>
<rect x="281.41" y="244.82" width="27.18" height="16.71" fill="#fbeee8"/>
<rect x="308.59" y="244.82" width="27.18" height="16.71" fill="#fdf8f6"/>
<rect x="335.77" y="244.82" width="27.18" height="16.71" fill="#ffffff"/>
<rect x="362.94" y="244.82" width="27.18" height="16.71" fill="#faeae3"/>
<rect x="390.12" y="244.82" width="27.18" height="16.71" fill="#fbebe5"/>
<rect x="172.70" y="261.53" width="27.18" height="16.71" fill="#fdf8f5"/>
<rect x="199.88" y="261.53" width="27.18" height="16.71" fill="#fdf6f2"/>
<rect x="227.06" y="261.53" width="27.18" height="16.71" fill="#fdf7f5"/>
<rect x="254.23" y="261.53" width="27.18" height="16.71" fill="#0d79c0"/>
<rect x="281.41" y="261.53" width="27.18" height="16.71" fill="#fdf7f4"/>
<rect x="308.59" y="261.53" width="27.18" height="16.71" fill="#fdf7f5"/>
<rect x="335.77" y="261.53" width="27.18" height="16.71" fill="#fef8f6"/>
<rect x="362.94" y="261.53" width="27.18" height="16.71" fill="#fdf6f2"/>
<rect x="390.12" y="261.53" width="27.18" height="16.71" fill="#fdf5f2"/>
<rect x="172.70" y="278.24" width="27.18" height="16.71" fill="#fcf2ed"/>
<rect x="199.88" y="278.24" width="27.18" height="16.71" fill="#fae9e2"/>
<rect x="227.06" y="278.24" width="27.18" height="16.71" fill="#faeae3"/>
<rect x="254.23" y="278.24" width="27.18" height="16.71" fill="#fdf8f6"/>
<rect x="281.41" y="278.24" width="27.18" height="16.71" fill="#56a2d3"/>
<rect x="308.59" y="278.24" width="27.18" height="16.71" fill="#fef9f6"/>
<rect x="335.77" y="278.24" width="27.18" height="16.71" fill="#ffffff"/>
<rect x="362.94" y="278.24" width="27.18" height="16.71" fill="#f9e2d8"/>
<rect x="390.12" y="278.24" width="27.18" height="16.71" fill="#fae8e0"/>
<rect x="172.70" y="294.96" width="27.18" height="16.71" fill="#fcf3f0"/>
<rect x="199.88" y="294.96" width="27.18" height="16.71" fill="#fbede7"/>
<rect x="227.06" y="294.96" width="27.18" height="16.71" fill="#fcf1ec"/>
<rect x="254.23" y="294.96" width="27.18" height="16.71" fill="#fdf7f4"/>
<rect x="281.41" y="294.96" width="27.18" height="16.71" fill="#fdf6f3"/>
<rect x="308.59" y="294.96" width="27.18" height="16.71" fill="#318dca"/>
<rect x="335.77" y="294.96" width="27.18" height="16.71" fill="#ffffff"/>
<rect x="362.94" y="294.96" width="27.18" height="16.71" fill="#fdf4f0"/>
<rect x="390.12" y="294.96" width="27.18" height="16.71" fill="#fbede7"/>
<rect x="172.70" y="311.67" width="27.18" height="16.71" fill="#fef8f6"/>
<rect x="199.88" y="311.67" width="27.18" height="16.71" fill="#fdf7f4"/>
<rect x="227.06" y="311.67" width="27.18" height="16.71" fill="#fdf8f6"/>
<rect x="254.23" y="311.67" width="27.18" height="16.71" fill="#ffffff"/>
<rect x="281.41" y="311.67" width="27.18" height="16.71" fill="#fef9f6"/>
<rect x="308.59" y="311.67" width="27.18" height="16.71" fill="#ffffff"/>
<rect x="335.77" y="311.67" width="27.18" height="16.71" fill="#0072bd"/>
<rect x="362.94" y="311.67" width="27.18" height="16.71" fill="#fdf8f5"/>
<rect x="390.12" y="311.67" width="27.18" height="16.71" fill="#fdf7f4"/>
<rect x="172.70" y="328.38" width="27.18" height="16.71" fill="#fbeee8"/>
<rect x="199.88" y="328.38" width="27.18" height="16.71" fill="#f9e4db"/>
<rect x="227.06" y="328.38" width="27.18" height="16.71" fill="#fbeee8"/>
<rect x="254.23" y="328.38" width="27.18" height="16.71" fill="#fef9f6"/>
<rect x="281.41" y="328.38" width="27.18" height="16.71" fill="#faeae3"/>
<rect x="308.59" y="328.38" width="27.18" height="16.71" fill="#ffffff"/>
<rect x="335.77" y="328.38" width="27.18" height="16.71" fill="#ffffff"/>
<rect x="362.94" y="328.38" width="27.18" height="16.71" fill="#4f9ed1"/>
<rect x="390.12" y="328.38" width="27.18" height="16.71" fill="#fbebe4"/>
<rect x="172.70" y="345.09" width="27.18" height="16.71" fill="#fbeee9"/>
<rect x="199.88" y="345.09" width="27.18" height="16.71" fill="#faeae3"/>
<rect x="227.06" y="345.09" width="27.18" height="16.71" fill="#fcf2ed"/>
<rect x="254.23" y="345.09" width="27.18" height="16.71" fill="#fdf8f6"/>
<rect x="281.41" y="345.09" width="27.18" height="16.71" fill="#fbefe9"/>
<rect x="308.59" y="345.09" width="27.18" height="16.71" fill="#fef9f6"/>
<rect x="335.77" y="345.09" width="27.18" height="16.71" fill="#fef9f7"/>
<rect x="362.94" y="345.09" width="27.18" height="16.71" fill="#fae8e1"/>
<rect x="390.12" y="345.09" width="27.18" height="16.71" fill="#4196ce"/>
<path d="M172.70 211.40V361.80M172.70 211.40H417.30M199.88 211.40V361.80M172.70 228.11H417.30M227.06 211.40V361.80M172.70 244.82H417.30M254.23 211.40V361.80M172.70 261.53H417.30M281.41 211.40V361.80M172.70 278.24H417.30M308.59 211.40V361.80M172.70 294.96H417.30M335.77 211.40V361.80M172.70 311.67H417.30M362.94 211.40V361.80M172.70 328.38H417.30M390.12 211.40V361.80M172.70 345.09H417.30M417.30 211.40V361.80M172.70 361.80H417.30" stroke="#a8a8a8" stroke-width="0.65" fill="none"/>
<text transform="translate(186.29 222.92) rotate(0.04) scale(0.925 1)" text-anchor="middle" font-size="8.79" fill="#222" stroke="#222">52.2%</text>
<text transform="translate(213.47 222.92) rotate(0.04) scale(0.925 1)" text-anchor="middle" font-size="8.79" fill="#222" stroke="#222">5.8%</text>
<text transform="translate(240.64 222.92) rotate(0.04) scale(0.925 1)" text-anchor="middle" font-size="8.79" fill="#222" stroke="#222">8.2%</text>
<text transform="translate(267.82 222.92) rotate(0.04) scale(0.925 1)" text-anchor="middle" font-size="8.79" fill="#222" stroke="#222">0.5%</text>
<text transform="translate(295.00 222.92) rotate(0.04) scale(0.925 1)" text-anchor="middle" font-size="8.79" fill="#222" stroke="#222">4.5%</text>
<text transform="translate(322.18 222.92) rotate(0.04) scale(0.925 1)" text-anchor="middle" font-size="8.79" fill="#222" stroke="#222">0.3%</text>
<text transform="translate(376.53 222.92) rotate(0.04) scale(0.925 1)" text-anchor="middle" font-size="8.79" fill="#222" stroke="#222">14.7%</text>
<text transform="translate(403.71 222.92) rotate(0.04) scale(0.925 1)" text-anchor="middle" font-size="8.79" fill="#222" stroke="#222">13.8%</text>
<text transform="translate(186.29 239.63) rotate(0.04) scale(0.925 1)" text-anchor="middle" font-size="8.79" fill="#222" stroke="#222">3.0%</text>
<text transform="translate(213.47 239.63) rotate(0.04) scale(0.925 1)" text-anchor="middle" font-size="8.79" fill="#222" stroke="#222">63.2%</text>
<text transform="translate(240.64 239.63) rotate(0.04) scale(0.925 1)" text-anchor="middle" font-size="8.79" fill="#222" stroke="#222">8.8%</text>
<text transform="translate(267.82 239.63) rotate(0.04) scale(0.925 1)" text-anchor="middle" font-size="8.79" fill="#222" stroke="#222">0.4%</text>
<text transform="translate(295.00 239.63) rotate(0.04) scale(0.925 1)" text-anchor="middle" font-size="8.79" fill="#222" stroke="#222">3.9%</text>
<text transform="translate(376.53 239.63) rotate(0.04) scale(0.925 1)" text-anchor="middle" font-size="8.79" fill="#222" stroke="#222">11.5%</text>
<text transform="translate(403.71 239.63) rotate(0.04) scale(0.925 1)" text-anchor="middle" font-size="8.79" fill="#222" stroke="#222">9.2%</text>
<text transform="translate(186.29 256.34) rotate(0.04) scale(0.925 1)" text-anchor="middle" font-size="8.79" fill="#222" stroke="#222">5.8%</text>
<text transform="translate(213.47 256.34) rotate(0.04) scale(0.925 1)" text-anchor="middle" font-size="8.79" fill="#222" stroke="#222">10.9%</text>
<text transform="translate(240.64 256.34) rotate(0.04) scale(0.925 1)" text-anchor="middle" font-size="8.79" fill="#222" stroke="#222">61.9%</text>
<text transform="translate(267.82 256.34) rotate(0.04) scale(0.925 1)" text-anchor="middle" font-size="8.79" fill="#222" stroke="#222">0.8%</text>
<text transform="translate(295.00 256.34) rotate(0.04) scale(0.925 1)" text-anchor="middle" font-size="8.79" fill="#222" stroke="#222">5.5%</text>
<text transform="translate(322.18 256.34) rotate(0.04) scale(0.925 1)" text-anchor="middle" font-size="8.79" fill="#222" stroke="#222">0.5%</text>
<text transform="translate(376.53 256.34) rotate(0.04) scale(0.925 1)" text-anchor="middle" font-size="8.79" fill="#222" stroke="#222">7.6%</text>
<text transform="translate(403.71 256.34) rotate(0.04) scale(0.925 1)" text-anchor="middle" font-size="8.79" fill="#222" stroke="#222">7.0%</text>
<text transform="translate(186.29 273.05) rotate(0.04) scale(0.925 1)" text-anchor="middle" font-size="8.79" fill="#222" stroke="#222">0.6%</text>
<text transform="translate(213.47 273.05) rotate(0.04) scale(0.925 1)" text-anchor="middle" font-size="8.79" fill="#222" stroke="#222">1.7%</text>
<text transform="translate(240.64 273.05) rotate(0.04) scale(0.925 1)" text-anchor="middle" font-size="8.79" fill="#222" stroke="#222">0.9%</text>
<text transform="translate(267.82 273.05) rotate(0.04) scale(0.925 1)" text-anchor="middle" font-size="8.79" fill="#ffffff" stroke="#ffffff">90.7%</text>
<text transform="translate(295.00 273.05) rotate(0.04) scale(0.925 1)" text-anchor="middle" font-size="8.79" fill="#222" stroke="#222">1.2%</text>
<text transform="translate(322.18 273.05) rotate(0.04) scale(0.925 1)" text-anchor="middle" font-size="8.79" fill="#222" stroke="#222">0.9%</text>
<text transform="translate(349.36 273.05) rotate(0.04) scale(0.925 1)" text-anchor="middle" font-size="8.79" fill="#222" stroke="#222">0.3%</text>
<text transform="translate(376.53 273.05) rotate(0.04) scale(0.925 1)" text-anchor="middle" font-size="8.79" fill="#222" stroke="#222">1.7%</text>
<text transform="translate(403.71 273.05) rotate(0.04) scale(0.925 1)" text-anchor="middle" font-size="8.79" fill="#222" stroke="#222">2.0%</text>
<text transform="translate(186.29 289.76) rotate(0.04) scale(0.925 1)" text-anchor="middle" font-size="8.79" fill="#222" stroke="#222">3.7%</text>
<text transform="translate(213.47 289.76) rotate(0.04) scale(0.925 1)" text-anchor="middle" font-size="8.79" fill="#222" stroke="#222">7.9%</text>
<text transform="translate(240.64 289.76) rotate(0.04) scale(0.925 1)" text-anchor="middle" font-size="8.79" fill="#222" stroke="#222">7.5%</text>
<text transform="translate(267.82 289.76) rotate(0.04) scale(0.925 1)" text-anchor="middle" font-size="8.79" fill="#222" stroke="#222">0.4%</text>
<text transform="translate(295.00 289.76) rotate(0.04) scale(0.925 1)" text-anchor="middle" font-size="8.79" fill="#222" stroke="#222">60.0%</text>
<text transform="translate(322.18 289.76) rotate(0.04) scale(0.925 1)" text-anchor="middle" font-size="8.79" fill="#222" stroke="#222">0.2%</text>
<text transform="translate(376.53 289.76) rotate(0.04) scale(0.925 1)" text-anchor="middle" font-size="8.79" fill="#222" stroke="#222">11.7%</text>
<text transform="translate(403.71 289.76) rotate(0.04) scale(0.925 1)" text-anchor="middle" font-size="8.79" fill="#222" stroke="#222">8.6%</text>
<text transform="translate(186.29 306.47) rotate(0.04) scale(0.925 1)" text-anchor="middle" font-size="8.79" fill="#222" stroke="#222">2.8%</text>
<text transform="translate(213.47 306.47) rotate(0.04) scale(0.925 1)" text-anchor="middle" font-size="8.79" fill="#222" stroke="#222">6.2%</text>
<text transform="translate(240.64 306.47) rotate(0.04) scale(0.925 1)" text-anchor="middle" font-size="8.79" fill="#222" stroke="#222">4.2%</text>
<text transform="translate(267.82 306.47) rotate(0.04) scale(0.925 1)" text-anchor="middle" font-size="8.79" fill="#222" stroke="#222">1.0%</text>
<text transform="translate(295.00 306.47) rotate(0.04) scale(0.925 1)" text-anchor="middle" font-size="8.79" fill="#222" stroke="#222">1.6%</text>
<text transform="translate(322.18 306.47) rotate(0.04) scale(0.925 1)" text-anchor="middle" font-size="8.79" fill="#ffffff" stroke="#ffffff">75.6%</text>
<text transform="translate(376.53 306.47) rotate(0.04) scale(0.925 1)" text-anchor="middle" font-size="8.79" fill="#222" stroke="#222">2.6%</text>
<text transform="translate(403.71 306.47) rotate(0.04) scale(0.925 1)" text-anchor="middle" font-size="8.79" fill="#222" stroke="#222">6.0%</text>
<text transform="translate(186.29 323.19) rotate(0.04) scale(0.925 1)" text-anchor="middle" font-size="8.79" fill="#222" stroke="#222">0.3%</text>
<text transform="translate(213.47 323.19) rotate(0.04) scale(0.925 1)" text-anchor="middle" font-size="8.79" fill="#222" stroke="#222">1.0%</text>
<text transform="translate(240.64 323.19) rotate(0.04) scale(0.925 1)" text-anchor="middle" font-size="8.79" fill="#222" stroke="#222">0.5%</text>
<text transform="translate(295.00 323.19) rotate(0.04) scale(0.925 1)" text-anchor="middle" font-size="8.79" fill="#222" stroke="#222">0.2%</text>
<text transform="translate(349.36 323.19) rotate(0.04) scale(0.925 1)" text-anchor="middle" font-size="8.79" fill="#ffffff" stroke="#ffffff">96.2%</text>
<text transform="translate(376.53 323.19) rotate(0.04) scale(0.925 1)" text-anchor="middle" font-size="8.79" fill="#222" stroke="#222">0.7%</text>
<text transform="translate(403.71 323.19) rotate(0.04) scale(0.925 1)" text-anchor="middle" font-size="8.79" fill="#222" stroke="#222">1.1%</text>
<text transform="translate(186.29 339.90) rotate(0.04) scale(0.925 1)" text-anchor="middle" font-size="8.79" fill="#222" stroke="#222">5.7%</text>
<text transform="translate(213.47 339.90) rotate(0.04) scale(0.925 1)" text-anchor="middle" font-size="8.79" fill="#222" stroke="#222">10.7%</text>
<text transform="translate(240.64 339.90) rotate(0.04) scale(0.925 1)" text-anchor="middle" font-size="8.79" fill="#222" stroke="#222">5.6%</text>
<text transform="translate(267.82 339.90) rotate(0.04) scale(0.925 1)" text-anchor="middle" font-size="8.79" fill="#222" stroke="#222">0.2%</text>
<text transform="translate(295.00 339.90) rotate(0.04) scale(0.925 1)" text-anchor="middle" font-size="8.79" fill="#222" stroke="#222">7.6%</text>
<text transform="translate(376.53 339.90) rotate(0.04) scale(0.925 1)" text-anchor="middle" font-size="8.79" fill="#222" stroke="#222">63.1%</text>
<text transform="translate(403.71 339.90) rotate(0.04) scale(0.925 1)" text-anchor="middle" font-size="8.79" fill="#222" stroke="#222">7.1%</text>
<text transform="translate(186.29 356.61) rotate(0.04) scale(0.925 1)" text-anchor="middle" font-size="8.79" fill="#222" stroke="#222">5.4%</text>
<text transform="translate(213.47 356.61) rotate(0.04) scale(0.925 1)" text-anchor="middle" font-size="8.79" fill="#222" stroke="#222">7.6%</text>
<text transform="translate(240.64 356.61) rotate(0.04) scale(0.925 1)" text-anchor="middle" font-size="8.79" fill="#222" stroke="#222">3.6%</text>
<text transform="translate(267.82 356.61) rotate(0.04) scale(0.925 1)" text-anchor="middle" font-size="8.79" fill="#222" stroke="#222">0.4%</text>
<text transform="translate(295.00 356.61) rotate(0.04) scale(0.925 1)" text-anchor="middle" font-size="8.79" fill="#222" stroke="#222">5.3%</text>
<text transform="translate(322.18 356.61) rotate(0.04) scale(0.925 1)" text-anchor="middle" font-size="8.79" fill="#222" stroke="#222">0.2%</text>
<text transform="translate(349.36 356.61) rotate(0.04) scale(0.925 1)" text-anchor="middle" font-size="8.79" fill="#222" stroke="#222">0.1%</text>
<text transform="translate(376.53 356.61) rotate(0.04) scale(0.925 1)" text-anchor="middle" font-size="8.79" fill="#222" stroke="#222">8.5%</text>
<text transform="translate(403.71 356.61) rotate(0.04) scale(0.925 1)" text-anchor="middle" font-size="8.79" fill="#222" stroke="#222">68.9%</text>
<text transform="translate(169.30 222.92) rotate(0.04) scale(0.925 1)" font-size="8.79" text-anchor="end" fill="#363636" stroke="#363636">16QAM</text>
<text transform="translate(169.30 239.63) rotate(0.04) scale(0.925 1)" font-size="8.79" text-anchor="end" fill="#363636" stroke="#363636">64QAM</text>
<text transform="translate(169.30 256.34) rotate(0.04) scale(0.925 1)" font-size="8.79" text-anchor="end" fill="#363636" stroke="#363636">8PSK</text>
<text transform="translate(169.30 273.05) rotate(0.04) scale(0.925 1)" font-size="8.79" text-anchor="end" fill="#363636" stroke="#363636">B-FM</text>
<text transform="translate(169.30 289.76) rotate(0.04) scale(0.925 1)" font-size="8.79" text-anchor="end" fill="#363636" stroke="#363636">BPSK</text>
<text transform="translate(169.30 306.47) rotate(0.04) scale(0.925 1)" font-size="8.79" text-anchor="end" fill="#363636" stroke="#363636">CPFSK</text>
<text transform="translate(169.30 323.19) rotate(0.04) scale(0.925 1)" font-size="8.79" text-anchor="end" fill="#363636" stroke="#363636">GFSK</text>
<text transform="translate(169.30 339.90) rotate(0.04) scale(0.925 1)" font-size="8.79" text-anchor="end" fill="#363636" stroke="#363636">PAM4</text>
<text transform="translate(169.30 356.61) rotate(0.04) scale(0.925 1)" font-size="8.79" text-anchor="end" fill="#363636" stroke="#363636">QPSK</text>
<text transform="translate(186.09 367.10) rotate(-32) scale(0.925 1)" x="0" y="6.33" font-size="8.79" text-anchor="end" fill="#363636" stroke="#363636">16QAM</text>
<text transform="translate(213.27 367.10) rotate(-32) scale(0.925 1)" x="0" y="6.33" font-size="8.79" text-anchor="end" fill="#363636" stroke="#363636">64QAM</text>
<text transform="translate(240.44 367.10) rotate(-32) scale(0.925 1)" x="0" y="6.33" font-size="8.79" text-anchor="end" fill="#363636" stroke="#363636">8PSK</text>
<text transform="translate(267.62 367.10) rotate(-32) scale(0.925 1)" x="0" y="6.33" font-size="8.79" text-anchor="end" fill="#363636" stroke="#363636">B-FM</text>
<text transform="translate(294.80 367.10) rotate(-32) scale(0.925 1)" x="0" y="6.33" font-size="8.79" text-anchor="end" fill="#363636" stroke="#363636">BPSK</text>
<text transform="translate(321.98 367.10) rotate(-32) scale(0.925 1)" x="0" y="6.33" font-size="8.79" text-anchor="end" fill="#363636" stroke="#363636">CPFSK</text>
<text transform="translate(349.16 367.10) rotate(-32) scale(0.925 1)" x="0" y="6.33" font-size="8.79" text-anchor="end" fill="#363636" stroke="#363636">GFSK</text>
<text transform="translate(376.33 367.10) rotate(-32) scale(0.925 1)" x="0" y="6.33" font-size="8.79" text-anchor="end" fill="#363636" stroke="#363636">PAM4</text>
<text transform="translate(403.51 367.10) rotate(-32) scale(0.925 1)" x="0" y="6.33" font-size="8.79" text-anchor="end" fill="#363636" stroke="#363636">QPSK</text>
<text transform="translate(295.20 397.50) rotate(0.04) scale(0.962 1)" text-anchor="middle" font-size="9.62" fill="#363636" stroke="#363636">Predicted Class</text>
<text transform="translate(137.00 286.60) scale(0.925 1) rotate(-90)" text-anchor="middle" font-size="9.62" fill="#363636" stroke="#363636">True Class</text>
<text x="276.40" y="412.00" text-anchor="middle" font-family="'Liberation Serif',serif" font-weight="bold" font-size="10.3" fill="#222">(c)</text>
</svg>
</body></html>
